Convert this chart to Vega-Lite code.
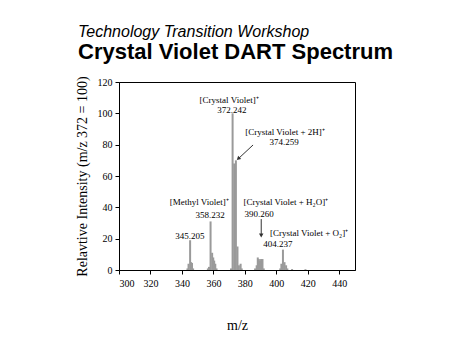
{
  "$schema": "https://vega.github.io/schema/vega-lite/v6.json",
  "width": 236,
  "height": 188,
  "autosize": {"type": "none"},
  "padding": {"left": 119, "top": 82, "right": 119, "bottom": 85},
  "background": "white",
  "title": {
    "text": "Technology Transition Workshop",
    "subtitle": "Crystal Violet DART Spectrum",
    "anchor": "start",
    "frame": "group",
    "dx": -41,
    "offset": 13,
    "font": "Liberation Sans",
    "fontSize": 16,
    "fontStyle": "italic",
    "fontWeight": "normal",
    "color": "black",
    "subtitleFont": "Liberation Sans",
    "subtitleFontSize": 22,
    "subtitleFontWeight": "bold",
    "subtitleColor": "black",
    "subtitlePadding": 2
  },
  "config": {
    "view": {"stroke": "black", "strokeWidth": 1},
    "axis": {
      "grid": false,
      "domainColor": "black",
      "tickColor": "black",
      "labelFont": "Liberation Serif",
      "labelFontSize": 10,
      "labelColor": "black",
      "labelOverlap": false,
      "titleFont": "Liberation Serif",
      "titleFontSize": 14,
      "titleFontWeight": "normal",
      "titleColor": "black",
      "tickSize": 4
    }
  },
  "datasets": {
    "spectrum": [
      {"mz": 343.5, "intensity": 1},
      {"mz": 344.2, "intensity": 4},
      {"mz": 345.2, "intensity": 19},
      {"mz": 345.8, "intensity": 5},
      {"mz": 346.4, "intensity": 4.5},
      {"mz": 347.1, "intensity": 1},
      {"mz": 356.5, "intensity": 1},
      {"mz": 357.2, "intensity": 2},
      {"mz": 358.2, "intensity": 31},
      {"mz": 359.2, "intensity": 11},
      {"mz": 359.9, "intensity": 8},
      {"mz": 360.5, "intensity": 6},
      {"mz": 361.2, "intensity": 4},
      {"mz": 362, "intensity": 1},
      {"mz": 371.2, "intensity": 1},
      {"mz": 372.2, "intensity": 100},
      {"mz": 373.2, "intensity": 68},
      {"mz": 374.3, "intensity": 70},
      {"mz": 375.3, "intensity": 15},
      {"mz": 376.2, "intensity": 3},
      {"mz": 377.3, "intensity": 4},
      {"mz": 378, "intensity": 1},
      {"mz": 386.5, "intensity": 1},
      {"mz": 387.5, "intensity": 3},
      {"mz": 388.2, "intensity": 8},
      {"mz": 388.9, "intensity": 7},
      {"mz": 389.6, "intensity": 6},
      {"mz": 390.3, "intensity": 7},
      {"mz": 391.2, "intensity": 7},
      {"mz": 392, "intensity": 1},
      {"mz": 402.5, "intensity": 1},
      {"mz": 403.2, "intensity": 4},
      {"mz": 404.2, "intensity": 13},
      {"mz": 405.2, "intensity": 5},
      {"mz": 406.2, "intensity": 3},
      {"mz": 407, "intensity": 1},
      {"mz": 410, "intensity": 0.6},
      {"mz": 418.5, "intensity": 0.5}
    ],
    "labels": [
      {"label": "[Crystal Violet]⁺", "mz": 370, "intensity": 108.5},
      {"label": "372.242", "mz": 371.8, "intensity": 102},
      {"label": "[Crystal Violet + 2H]⁺", "mz": 405.5, "intensity": 88},
      {"label": "374.259", "mz": 405, "intensity": 81.5},
      {"label": "[Methyl Violet]⁺", "mz": 351, "intensity": 43.5},
      {"label": "358.232", "mz": 357.9, "intensity": 35},
      {"label": "345.205", "mz": 345.1, "intensity": 22},
      {"label": "[Crystal Violet + H₂O]⁺", "mz": 406, "intensity": 43.5},
      {"label": "390.260", "mz": 389, "intensity": 36},
      {"label": "[Crystal Violet + O₂]⁺", "mz": 420.8, "intensity": 23.5},
      {"label": "404.237", "mz": 401, "intensity": 16.5}
    ],
    "arrows": [
      {"mz": 385.2, "intensity": 79.8, "mz2": 375.8, "intensity2": 71},
      {"mz": 390.4, "intensity": 32.5, "mz2": 390.4, "intensity2": 22}
    ],
    "arrowheads": [
      {"mz": 375.8, "intensity": 71, "angle": 227},
      {"mz": 390.4, "intensity": 22, "angle": 180}
    ]
  },
  "encoding": {
    "x": {
      "field": "mz",
      "type": "quantitative",
      "scale": {"domain": [300, 450], "nice": false},
      "axis": {"title": "m/z", "values": [300, 320, 340, 360, 380, 400, 420, 440], "labelOverlap": false, "labelPadding": 4, "titlePadding": 30}
    },
    "y": {
      "field": "intensity",
      "type": "quantitative",
      "scale": {"domain": [0, 120], "nice": false},
      "axis": {"title": "Relavtive Intensity (m/z 372 = 100)", "values": [0, 20, 40, 60, 80, 100, 120], "labelOverlap": false, "labelPadding": 3, "titlePadding": 8}
    }
  },
  "layer": [
    {
      "data": {"name": "spectrum"},
      "mark": {"type": "rule", "color": "#9a9a9a", "strokeWidth": 2},
      "encoding": {
        "y2": {"datum": 0}
      }
    },
    {
      "data": {"name": "arrows"},
      "mark": {"type": "rule", "color": "#333333", "strokeWidth": 1},
      "encoding": {
        "x2": {"field": "mz2"},
        "y2": {"field": "intensity2"}
      }
    },
    {
      "data": {"name": "arrowheads"},
      "mark": {"type": "point", "shape": "triangle-up", "filled": true, "color": "#333333", "size": 20, "opacity": 1},
      "encoding": {
        "angle": {"field": "angle", "type": "quantitative", "scale": null}
      }
    },
    {
      "data": {"name": "labels"},
      "mark": {"type": "text", "font": "Liberation Serif", "fontSize": 9, "color": "black", "align": "center", "baseline": "middle"},
      "encoding": {
        "text": {"field": "label"}
      }
    }
  ]
}
